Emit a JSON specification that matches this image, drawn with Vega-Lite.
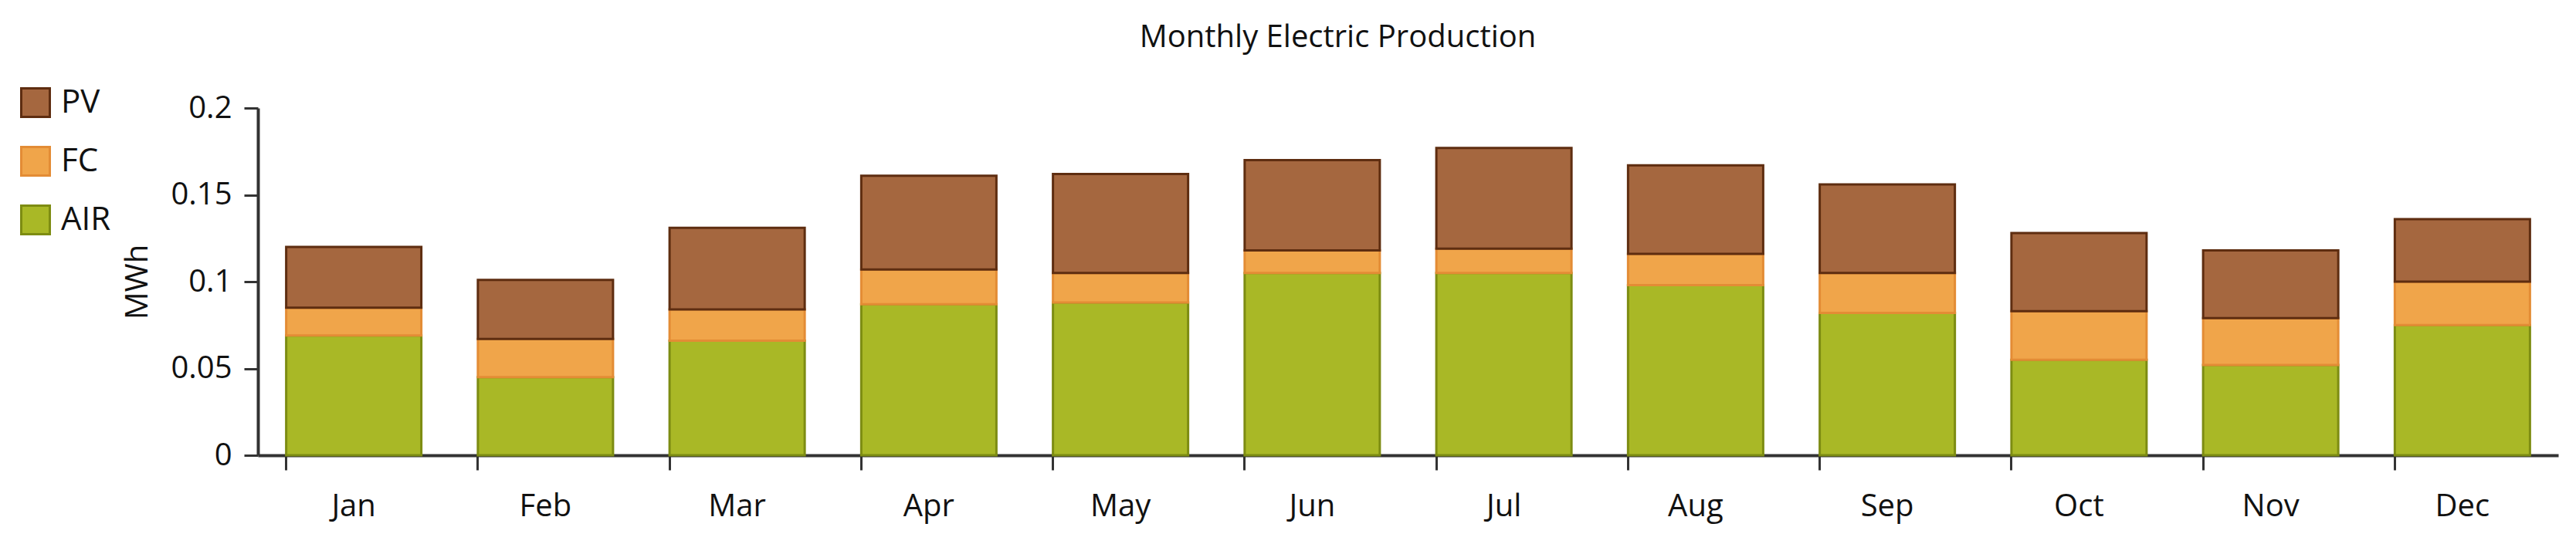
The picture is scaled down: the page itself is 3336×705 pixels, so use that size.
{
  "$schema": "https://vega.github.io/schema/vega-lite/v6.json",
  "width": 2979,
  "height": 450,
  "autosize": "none",
  "padding": {"left": 334, "top": 140, "right": 23, "bottom": 115},
  "background": "white",
  "config": {
    "font": "Open Sans",
    "view": {"stroke": null},
    "axis": {"labelFont": "Open Sans", "titleFont": "Open Sans", "labelColor": "#111", "titleColor": "#111"}
  },
  "title": {
    "text": "Monthly Electric Production",
    "fontSize": 40,
    "fontWeight": "normal",
    "color": "#111",
    "anchor": "middle",
    "frame": "group",
    "dx": -91,
    "offset": 43
  },
  "data": {
    "values": [
      {"month": "Jan", "series": "AIR", "mwh": 0.069},
      {"month": "Jan", "series": "FC", "mwh": 0.016},
      {"month": "Jan", "series": "PV", "mwh": 0.035},
      {"month": "Feb", "series": "AIR", "mwh": 0.045},
      {"month": "Feb", "series": "FC", "mwh": 0.022},
      {"month": "Feb", "series": "PV", "mwh": 0.034},
      {"month": "Mar", "series": "AIR", "mwh": 0.066},
      {"month": "Mar", "series": "FC", "mwh": 0.018},
      {"month": "Mar", "series": "PV", "mwh": 0.047},
      {"month": "Apr", "series": "AIR", "mwh": 0.087},
      {"month": "Apr", "series": "FC", "mwh": 0.020},
      {"month": "Apr", "series": "PV", "mwh": 0.054},
      {"month": "May", "series": "AIR", "mwh": 0.088},
      {"month": "May", "series": "FC", "mwh": 0.017},
      {"month": "May", "series": "PV", "mwh": 0.057},
      {"month": "Jun", "series": "AIR", "mwh": 0.105},
      {"month": "Jun", "series": "FC", "mwh": 0.013},
      {"month": "Jun", "series": "PV", "mwh": 0.052},
      {"month": "Jul", "series": "AIR", "mwh": 0.105},
      {"month": "Jul", "series": "FC", "mwh": 0.014},
      {"month": "Jul", "series": "PV", "mwh": 0.058},
      {"month": "Aug", "series": "AIR", "mwh": 0.098},
      {"month": "Aug", "series": "FC", "mwh": 0.018},
      {"month": "Aug", "series": "PV", "mwh": 0.051},
      {"month": "Sep", "series": "AIR", "mwh": 0.082},
      {"month": "Sep", "series": "FC", "mwh": 0.023},
      {"month": "Sep", "series": "PV", "mwh": 0.051},
      {"month": "Oct", "series": "AIR", "mwh": 0.055},
      {"month": "Oct", "series": "FC", "mwh": 0.028},
      {"month": "Oct", "series": "PV", "mwh": 0.045},
      {"month": "Nov", "series": "AIR", "mwh": 0.052},
      {"month": "Nov", "series": "FC", "mwh": 0.027},
      {"month": "Nov", "series": "PV", "mwh": 0.039},
      {"month": "Dec", "series": "AIR", "mwh": 0.075},
      {"month": "Dec", "series": "FC", "mwh": 0.025},
      {"month": "Dec", "series": "PV", "mwh": 0.036}
    ]
  },
  "mark": {"type": "bar", "strokeWidth": 3},
  "encoding": {
    "x": {
      "field": "month",
      "type": "nominal",
      "sort": null,
      "scale": {"paddingInner": 0.295, "paddingOuter": 0.1475},
      "axis": {
        "title": null,
        "labelAngle": 0,
        "labelFontSize": 40,
        "bandPosition": 0,
        "tickSize": 19,
        "tickWidth": 3,
        "tickColor": "#333",
        "domainColor": "#333",
        "domainWidth": 4,
        "labelPadding": 27
      }
    },
    "y": {
      "field": "mwh",
      "type": "quantitative",
      "stack": "zero",
      "scale": {"domain": [0, 0.2]},
      "axis": {
        "title": "MWh",
        "titleFontSize": 40,
        "titleFontWeight": "normal",
        "titlePadding": 22,
        "values": [0, 0.05, 0.1, 0.15, 0.2],
        "format": "~g",
        "labelFontSize": 40,
        "grid": false,
        "tickSize": 18,
        "tickWidth": 3,
        "tickColor": "#333",
        "domainColor": "#333",
        "domainWidth": 4,
        "labelPadding": 16
      }
    },
    "color": {
      "field": "series",
      "type": "nominal",
      "scale": {"domain": ["PV", "FC", "AIR"], "range": ["#a5673f", "#f0a54a", "#a9b826"]},
      "legend": {
        "title": null,
        "orient": "none",
        "legendX": -309,
        "legendY": -28,
        "symbolType": "square",
        "symbolSize": 1369,
        "symbolStrokeWidth": 3,
        "labelFontSize": 42,
        "labelColor": "#111",
        "labelOffset": 12,
        "rowPadding": 26
      }
    },
    "stroke": {
      "field": "series",
      "type": "nominal",
      "scale": {"domain": ["PV", "FC", "AIR"], "range": ["#5e2d10", "#e38c35", "#7d8c12"]},
      "legend": null
    },
    "order": {"field": "series", "sort": "ascending"}
  }
}
